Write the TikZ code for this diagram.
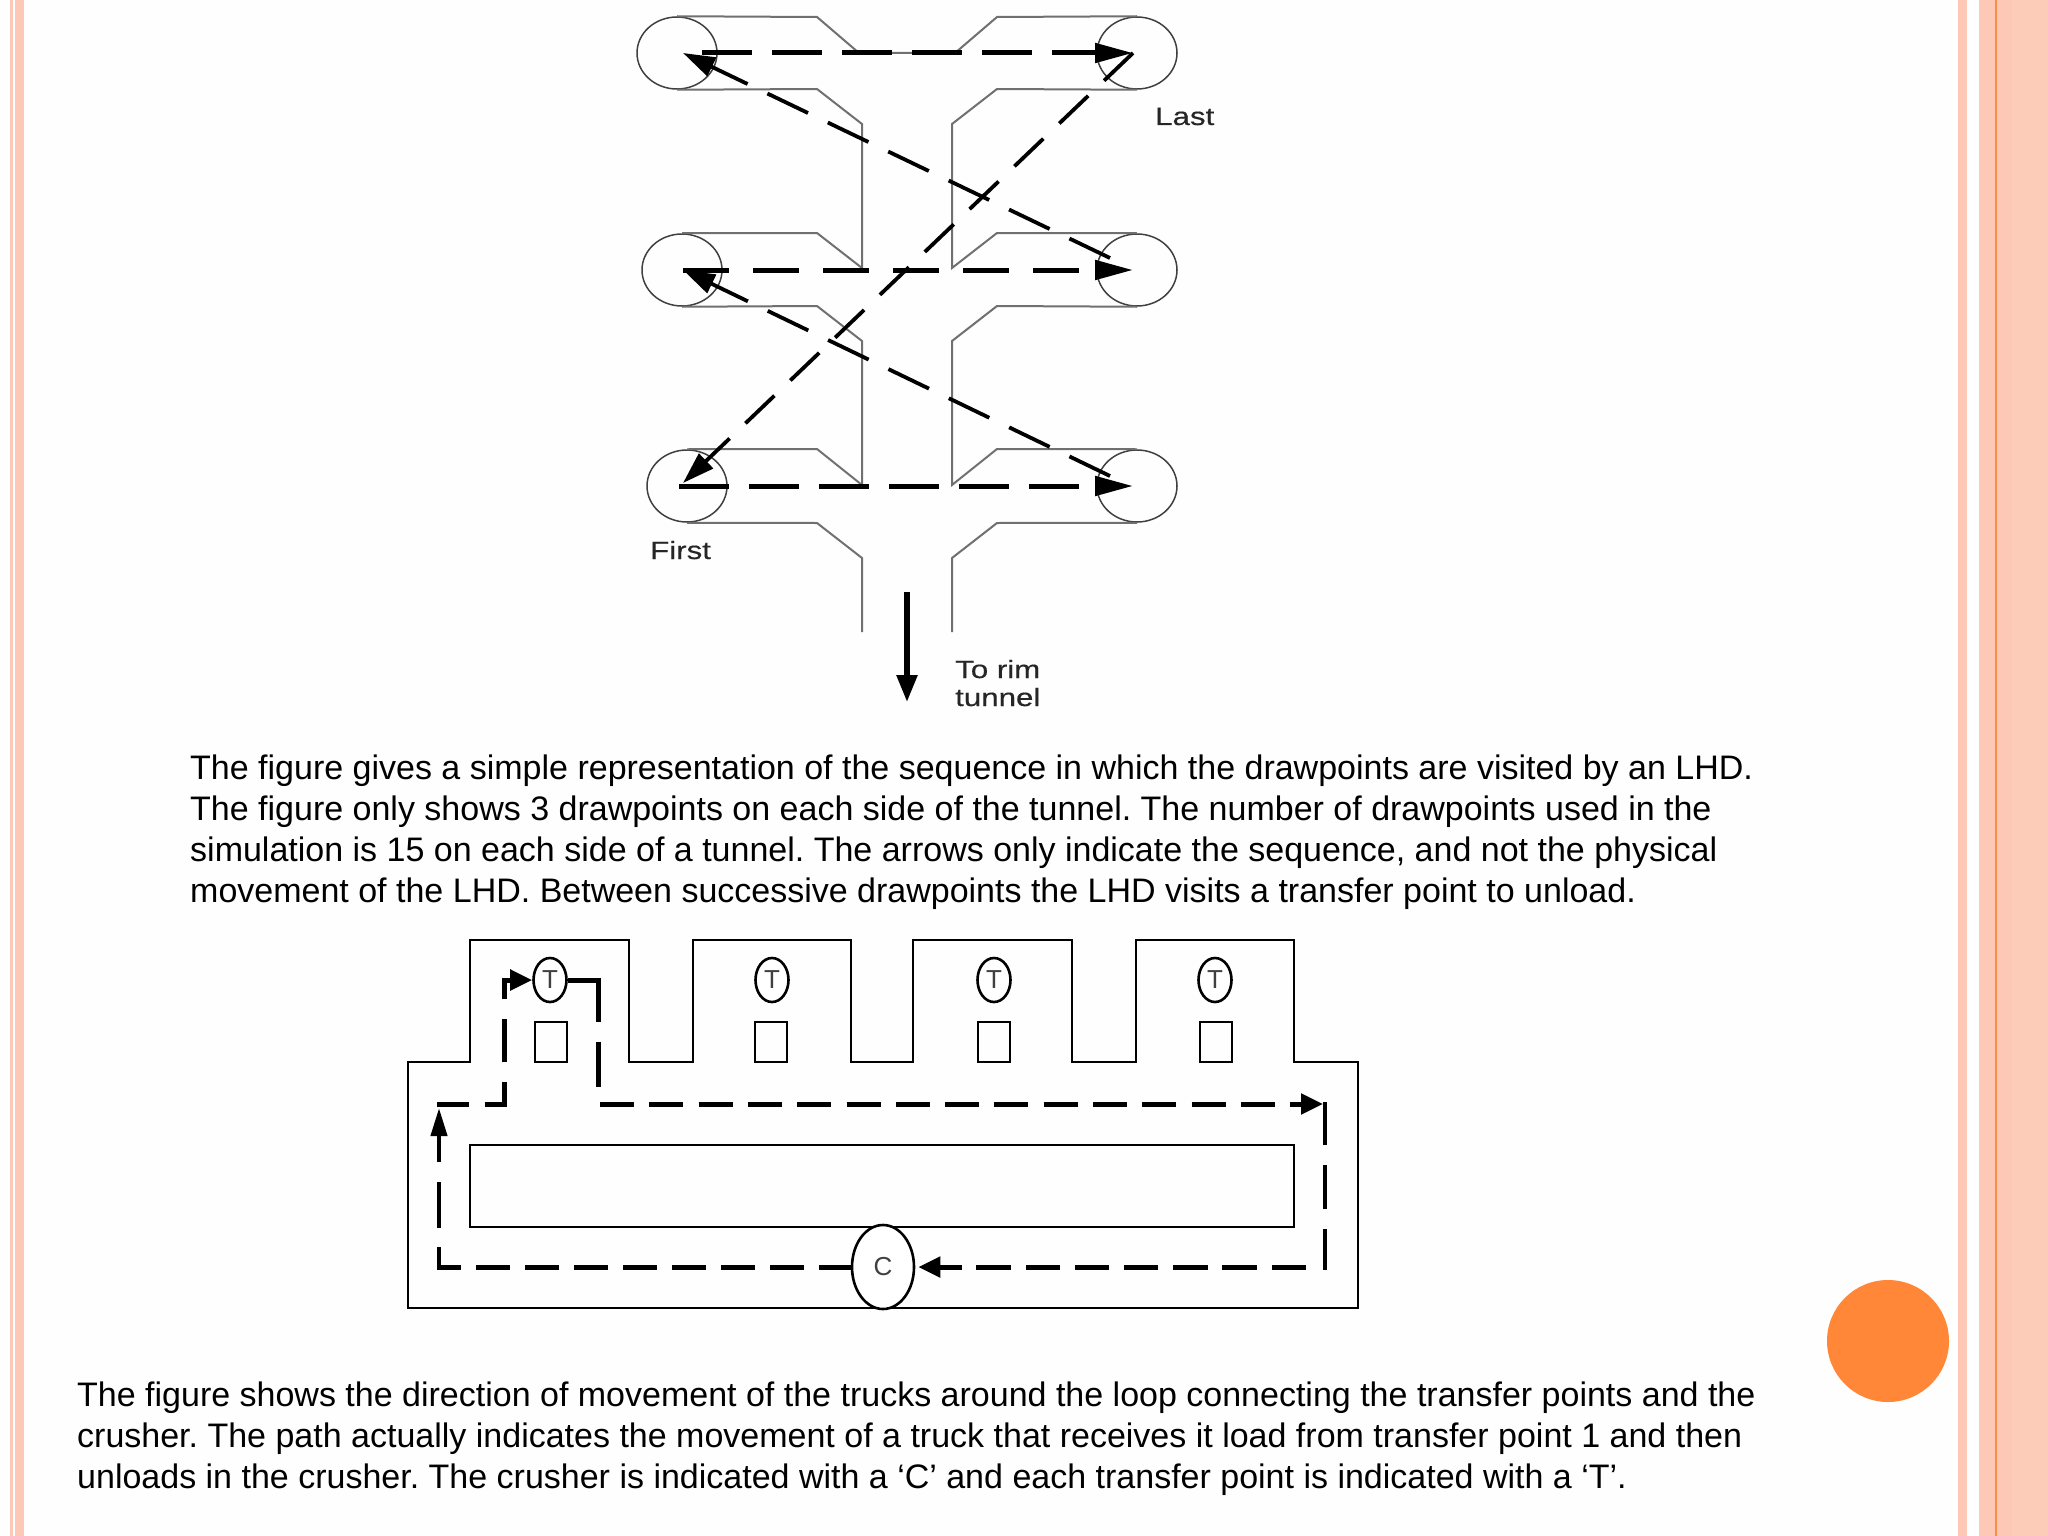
\documentclass[tikz,border=0pt]{standalone}
\usepackage{fontspec}
\setmainfont{Liberation Sans}
\newfontfamily\labelfont[FakeStretch=1.25,FakeBold=0.4]{Liberation Sans}
\usetikzlibrary{shapes.geometric}
\usetikzlibrary{arrows.meta}
\definecolor{barpink}{HTML}{FEC8B6}
\definecolor{barlight}{HTML}{FCCCB8}
\definecolor{barorange}{HTML}{F98E47}
\definecolor{dotorange}{HTML}{FF8737}
\definecolor{pagewhite}{HTML}{FEFEFE}
\definecolor{tunnelgray}{HTML}{707070}
\begin{document}
\frenchspacing
\begin{tikzpicture}[x=1pt,y=-1pt,
    drawpoint/.style={draw=black!75,line width=1.5pt,ellipse,minimum width=80pt,minimum height=72pt,inner sep=0pt},
    tunnel/.style={draw=tunnelgray,line width=2pt},
    visitrow/.style={line width=5pt,dash pattern=on 50pt off 20pt,-{Triangle[length=38pt,width=19pt]}},
    visitdiag/.style={line width=3.8pt,-{Triangle[length=32pt,width=20pt]}},
    wall/.style={draw=black,line width=2.4pt},
    transfer/.style={draw=black,line width=2.6pt,ellipse,minimum width=33pt,minimum height=44pt,inner sep=0pt,fill=white,font=\fontsize{26}{26}\selectfont,text=black!75},
    chute/.style={draw=black,line width=2.4pt,minimum width=32pt,minimum height=40pt,inner sep=0pt},
    route/.style={line width=5pt},
    riser/.style={line width=4.2pt},
    routetip/.style={-{Triangle[length=22pt,width=20pt]}},
    caption/.style={anchor=north west,align=left,inner sep=0pt,font=\fontsize{34}{41}\selectfont,text=black},
    figlabel/.style={anchor=base west,align=left,inner sep=0pt,font=\labelfont\fontsize{25}{28}\selectfont,text=black!85},
]
        % page
        \fill[pagewhite] (0,0) rectangle (2048,1536);
        \fill[barpink] (10,0) rectangle (13,1536);
        \fill[barpink] (15,0) rectangle (24,1536);
        \fill[barpink] (1958,0) rectangle (1967,1536);
        \fill[barpink] (1979,0) rectangle (2012,1536);
        \fill[barlight] (2012,0) rectangle (2048,1536);
        \fill[barorange] (1995,0) rectangle (1997,1536);
        \node[circle,fill=dotorange,minimum size=122pt,inner sep=0pt] (dot) at (1888,1341) {};

        % drawpoints
        \node[drawpoint] (l1) at (677,53) {};
        \node[drawpoint] (l2) at (682,270) {};
        \node[drawpoint] (l3) at (687,486) {};
        \node[drawpoint] (r1) at (1137,53) {};
        \node[drawpoint] (r2) at (1137,270) {};
        \node[drawpoint] (r3) at (1137,486) {};
        \coordinate (endl) at (862,632);
        \coordinate (endr) at (952,632);

        % tunnel walls
        \draw[tunnel] (l1.north) -- (817,17) -- (859,53) -- (955,53) -- (997,17) -- (r1.north);
        \draw[tunnel] (l1.south) -- (817,89) -- (862,124) -- (862,268) -- (817,233) -- (l2.north);
        \draw[tunnel] (r1.south) -- (997,89) -- (952,124) -- (952,268) -- (997,233) -- (r2.north);
        \draw[tunnel] (l2.south) -- (817,306) -- (862,341) -- (862,485) -- (817,449) -- (l3.north);
        \draw[tunnel] (r2.south) -- (997,306) -- (952,341) -- (952,485) -- (997,449) -- (r3.north);
        \draw[tunnel] (l3.south) -- (817,523) -- (862,558) -- (endl);
        \draw[tunnel] (r3.south) -- (997,523) -- (952,558) -- (endr);

        % sequence of visits
        \coordinate (s1) at (702,53);
        \coordinate (t1) at (1133,53);
        \coordinate (s2) at (683,270);
        \coordinate (t2) at (1133,270);
        \coordinate (s3) at (679,486);
        \coordinate (t3) at (1133,486);
        \coordinate (u3) at (1110,476);
        \coordinate (u2) at (1110,258);
        \coordinate (tl3) at (683,483);
        \coordinate (tl1) at (683,53);
        \draw[visitrow] (s3) -- (t3);
        \draw[visitrow,dash pattern=on 46pt off 24pt] (s2) -- (t2);
        \draw[visitrow] (s1) -- (t1);
        \draw[visitdiag,dash pattern=on 45pt off 22pt] (u3) -- (s2);
        \draw[visitdiag,dash pattern=on 45pt off 22pt] (u2) -- (tl1);
        \draw[visitdiag,dash pattern=on 40pt off 22pt] (t1) -- (tl3);

        % way out
        \coordinate (outa) at (907,592);
        \coordinate (outb) at (907,702);
        \draw[line width=5.5pt,-{Triangle[length=27pt,width=20pt]}] (outa) -- (outb);

        \node[figlabel] (last) at (1155,125) {Last};
        \node[figlabel] (first) at (650,559) {First};
        \node[figlabel] (rim) at (955,706) {To rim\\tunnel};

        \node[caption] (para1) at (190,755) {The figure gives a simple representation of the sequence in which the drawpoints are visited by an LHD.\\
The figure only shows 3 drawpoints on each side of the tunnel. The number of drawpoints used in the\\
simulation is 15 on each side of a tunnel. The arrows only indicate the sequence, and not the physical\\
movement of the LHD. Between successive drawpoints the LHD visits a transfer point to unload.};

        % loop
        \draw[wall] (408,1062) -- (470,1062) -- (470,940) -- (629,940) -- (629,1062) -- (693,1062) -- (693,940) -- (851,940) -- (851,1062)
            -- (913,1062) -- (913,940) -- (1072,940) -- (1072,1062) -- (1136,1062) -- (1136,940) -- (1294,940) -- (1294,1062) -- (1358,1062)
            -- (1358,1308) -- (408,1308) -- cycle;
        \node[wall,rectangle,minimum width=824pt,minimum height=82pt,inner sep=0pt] (pillar) at (882,1186) {};
        \node[transfer,minimum width=62pt,minimum height=84pt] (crusher) at (883,1267) {C};
        \foreach \n/\tx/\cx in {1/550/551,2/772/771,3/994/994,4/1215/1216}{
            \node[transfer] (tp\n) at (\tx,980) {T};
            \node[chute] (box\n) at (\cx,1042) {};
        }

        \coordinate (ne) at (1323,1104);
        \coordinate (nev) at (1325,1102);
        \coordinate (se) at (1325,1270);
        \coordinate (seh) at (1306,1267);
        \coordinate (sw) at (439,1269);
        \coordinate (swh) at (437,1267);
        \coordinate (nw) at (439,1108);
        \coordinate (nwh) at (437,1104);
        \coordinate (upa) at (504,1104);
        \coordinate (upb) at (504,980);
        \coordinate (dna) at (598,980);
        \coordinate (dnb) at (598,1087);
        \coordinate (ea) at (600,1104);
        \draw[route,dash pattern=on 34pt off 15.3pt,routetip] (ea) -- (ne);
        \draw[riser,dash pattern=on 43pt off 20pt on 44pt off 20pt on 60pt] (nev) -- (se);
        \draw[route,dash pattern=on 34.5pt off 14.7pt,routetip,shorten >=3pt] (seh) -- (crusher.east);
        \draw[route,dash pattern=on 32pt off 15pt on 34pt off 15pt on 34pt off 15pt on 34pt off 15pt on 34pt off 15pt on 34pt off 15pt on 34pt off 15pt on 34pt off 15pt on 60pt off 0pt] (crusher.west) -- (swh);
        \draw[riser,dash pattern=on 22pt off 19pt on 46pt off 20pt on 100pt off 0pt,-{Triangle[length=28pt,width=16pt]}] (sw) -- (nw);
        \draw[route,dash pattern=on 32pt off 15.6pt on 41pt off 20pt on 43pt off 20pt on 100pt off 0pt,routetip] (nwh) -- (upa) -- (upb) -- (tp1.west);
        \draw[route,dash pattern=on 72pt off 20pt on 46pt off 0pt] (tp1.east) -- (dna) -- (dnb);

        \node[caption] (para2) at (77,1382) {The figure shows the direction of movement of the trucks around the loop connecting the transfer points and the\\
crusher. The path actually indicates the movement of a truck that receives it load from transfer point 1 and then\\
unloads in the crusher. The crusher is indicated with a ‘C’ and each transfer point is indicated with a ‘T’.};
\end{tikzpicture}
\end{document}
